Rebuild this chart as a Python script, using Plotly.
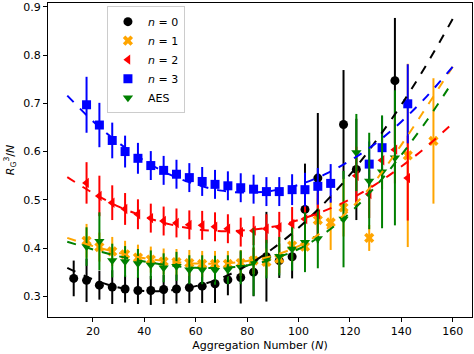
import plotly.graph_objects as go

# ---------------- data ----------------
x0 = [12.5, 17.5, 22.5, 27.5, 32.5, 37.5, 42.5, 47.5, 52.5, 57.5, 62.5, 67.5, 72.5, 77.5, 82.5, 87.5, 92.5, 97.5,
      102.5, 107.5, 117.5, 122.5, 137.5]
y0 = [0.337, 0.333, 0.323, 0.319, 0.315, 0.312, 0.312, 0.314, 0.315, 0.318, 0.321, 0.326, 0.334, 0.339, 0.350,
      0.382, 0.374, 0.382, 0.480, 0.545, 0.656, 0.563, 0.747]
e0 = [0.037, 0.045, 0.030, 0.035, 0.028, 0.028, 0.030, 0.030, 0.030, 0.032, 0.035, 0.040, 0.032, 0.054, 0.050,
      0.093, 0.036, 0.045, 0.095, 0.135, 0.113, 0.105, 0.130]

x1 = [17.5, 22.5, 27.5, 32.5, 37.5, 42.5, 47.5, 52.5, 57.5, 62.5, 67.5, 72.5, 77.5, 82.5, 87.5, 92.5, 97.5,
      102.5, 107.5, 112.5, 117.5, 127.5, 142.5, 152.5]
y1 = [0.415, 0.402, 0.393, 0.387, 0.380, 0.376, 0.372, 0.371, 0.369, 0.367, 0.367, 0.367, 0.369, 0.374,
      0.371, 0.378, 0.405, 0.403, 0.458, 0.453, 0.484, 0.421, 0.592, 0.622]
e1 = [0.035, 0.030, 0.030, 0.028, 0.027, 0.027, 0.027, 0.027, 0.027, 0.027, 0.027, 0.027, 0.027, 0.028,
      0.028, 0.030, 0.035, 0.040, 0.045, 0.057, 0.060, 0.027, 0.190, 0.130]

x2 = [17.5, 22.5, 27.5, 32.5, 37.5, 42.5, 47.5, 52.5, 57.5, 62.5, 67.5, 72.5, 77.5, 82.5, 87.5, 92.5, 97.5,
      102.5, 107.5, 122.5, 127.5, 132.5, 137.5, 142.5]
y2 = [0.535, 0.508, 0.494, 0.481, 0.470, 0.462, 0.456, 0.452, 0.448, 0.447, 0.444, 0.440, 0.433, 0.436,
      0.440, 0.443, 0.450, 0.460, 0.470, 0.550, 0.512, 0.582, 0.604, 0.545]
e2 = [0.043, 0.042, 0.036, 0.033, 0.031, 0.030, 0.030, 0.030, 0.030, 0.030, 0.030, 0.030, 0.030, 0.030,
      0.030, 0.032, 0.035, 0.040, 0.045, 0.060, 0.050, 0.060, 0.070, 0.088]

x3 = [17.5, 22.5, 27.5, 32.5, 37.5, 42.5, 47.5, 52.5, 57.5, 62.5, 67.5, 72.5, 77.5, 82.5, 87.5, 92.5, 97.5,
      102.5, 107.5, 112.5, 127.5, 132.5, 142.5]
y3 = [0.697, 0.655, 0.623, 0.600, 0.586, 0.571, 0.561, 0.553, 0.546, 0.538, 0.532, 0.529, 0.525, 0.522,
      0.517, 0.517, 0.521, 0.521, 0.528, 0.534, 0.574, 0.608, 0.699]
e3 = [0.058, 0.046, 0.037, 0.033, 0.032, 0.030, 0.030, 0.030, 0.030, 0.030, 0.030, 0.030, 0.030, 0.030,
      0.030, 0.030, 0.032, 0.035, 0.038, 0.040, 0.047, 0.065, 0.082]

x4 = [17.5, 22.5, 27.5, 32.5, 37.5, 42.5, 47.5, 52.5, 57.5, 62.5, 67.5, 72.5, 77.5, 82.5, 87.5, 92.5, 97.5,
      102.5, 107.5, 117.5, 122.5, 127.5, 132.5, 137.5]
y4 = [0.403, 0.414, 0.374, 0.372, 0.368, 0.365, 0.359, 0.362, 0.355, 0.355, 0.354, 0.355, 0.360, 0.371,
      0.377, 0.383, 0.398, 0.412, 0.420, 0.460, 0.598, 0.539, 0.558, 0.587]
e4 = [0.040, 0.060, 0.035, 0.032, 0.030, 0.030, 0.030, 0.030, 0.030, 0.030, 0.030, 0.030, 0.035, 0.070,
      0.040, 0.040, 0.045, 0.062, 0.062, 0.100, 0.080, 0.100, 0.117, 0.140]

# fitted curves
xf = [10, 20, 30, 40, 50, 60, 70, 80, 90, 100, 110, 120, 130, 140, 150, 160]
f0 = [0.359, 0.335, 0.318, 0.311, 0.312, 0.321, 0.338, 0.364, 0.399, 0.442, 0.493, 0.552, 0.621, 0.697, 0.782, 0.875]
f1 = [0.421, 0.404, 0.390, 0.379, 0.372, 0.368, 0.368, 0.373, 0.384, 0.404, 0.436, 0.480, 0.540, 0.614, 0.694, 0.776]
f2 = [0.547, 0.514, 0.486, 0.465, 0.449, 0.439, 0.435, 0.437, 0.444, 0.458, 0.477, 0.501, 0.532, 0.569, 0.611, 0.659]
f3 = [0.716, 0.663, 0.618, 0.581, 0.552, 0.532, 0.519, 0.515, 0.519, 0.531, 0.552, 0.581, 0.617, 0.662, 0.715, 0.776]
f4 = [0.413, 0.397, 0.383, 0.372, 0.364, 0.359, 0.359, 0.364, 0.377, 0.398, 0.430, 0.473, 0.528, 0.593, 0.665, 0.745]

names = ["<i>n</i> = 0", "<i>n</i> = 1", "<i>n</i> = 2", "<i>n</i> = 3", "AES"]
colors = ["black", "orange", "red", "blue", "green"]
symbols = ["circle", "x", "triangle-left", "square", "triangle-down"]
xs = [x0, x1, x2, x3, x4]
ys = [y0, y1, y2, y3, y4]
es = [e0, e1, e2, e3, e4]
fits = [f0, f1, f2, f3, f4]

fig = go.Figure()
for xx, yy, ee, c, s, nm in zip(xs, ys, es, colors, symbols, names):
    fig.add_trace(go.Scatter(
        x=xx, y=yy, mode="markers", name=nm,
        marker=dict(color=c, symbol=s, size=9, line=dict(width=0)),
        error_y=dict(type="data", array=ee, visible=True, color=c, thickness=2, width=0),
    ))
for ff, c in zip(fits, colors):
    fig.add_trace(go.Scatter(
        x=xf, y=ff, mode="lines", showlegend=False, hoverinfo="skip",
        line=dict(color=c, width=2, dash="dash", shape="spline"),
    ))

axis_common = dict(
    showline=True, linecolor="black", linewidth=1, mirror=True,
    ticks="outside", ticklen=4, tickcolor="black", showgrid=False, zeroline=False,
    ticklabeloverflow="allow",
    tickfont=dict(family="DejaVu Sans", size=11, color="black"),
)
fig.update_xaxes(range=[2.5, 167.5], tickvals=[20, 40, 60, 80, 100, 120, 140, 160],
                 title=dict(text="Aggregation Number (<i>N</i>)", standoff=4,
                            font=dict(family="DejaVu Sans", size=11, color="black")),
                 **axis_common)
fig.update_yaxes(range=[0.257, 0.908], tickvals=[0.3, 0.4, 0.5, 0.6, 0.7, 0.8, 0.9],
                 ticktext=["0.3", "0.4", "0.5", "0.6", "0.7", "0.8", "0.9"],
                 title=dict(text="<i>R</i><sub>G</sub><sup>3</sup>/<i>N</i>", standoff=6,
                            font=dict(family="DejaVu Sans", size=11, color="black")),
                 **axis_common)
fig.update_layout(
    width=474, height=354,
    margin=dict(l=48, r=2, t=1, b=37),
    plot_bgcolor="white", paper_bgcolor="white",
    font=dict(family="DejaVu Sans", size=11, color="black"),
    legend=dict(x=0.139, y=0.99, xanchor="left", yanchor="top",
                bgcolor="white", bordercolor="#cccccc", borderwidth=1,
                font=dict(family="DejaVu Sans", size=11), tracegroupgap=0, itemwidth=30),
)
fig.write_html("out.html")
